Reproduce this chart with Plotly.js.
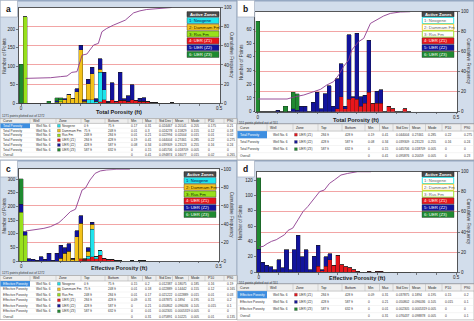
<!DOCTYPE html>
<html><head><meta charset="utf-8">
<script src="https://cdn.plot.ly/plotly-3.0.1.min.js"></script>
<style>html,body{margin:0;padding:0;background:#fff;overflow:hidden}#chart{width:474px;height:321px}</style>
</head><body><div id="chart"></div>
<script>
// ================= DATA =================
const bins=[0,0.01,0.02,0.03,0.04,0.05,0.06,0.07,0.08,0.09,
            0.10,0.11,0.12,0.13,0.14,0.15,0.16,0.17,0.18,0.19,
            0.20,0.21,0.22,0.23,0.24,0.25,0.26,0.27,0.28,0.29,
            0.30,0.31,0.32,0.33,0.34,0.35,0.36,0.37,0.38];
const zoneNames=['Neogene','Dammam Fm','Rus Fm','UER (Z1)','UER (Z2)','UER (Z3)'];
const tableHeader=['Curve','Well','Zone','Top','Bottom','Min','Max','Std Dev','Mean','Mode','P10','P90'];
const xTickLabels=['0','','','','','','','','','','0.5'];

// Panel a : Total porosity, all zones (counts per 0.01 bin)
const aNeo=[0,0,0,0,0,0,0,0,0,0, 0,0,0,0,0,0,2,10,10,6, 80,27,0,0,0,0,0,0,0,0, 0,0,0,0,0,0,0,0,0];
const aDam=[0,0,0,0,0,0,0,0,0,0, 4,9,23,12,31,145,4,43,70,0, 8,0,0,0,0,0,0,0,0,0, 0,0,0,0,0,0,0,0,0];
const aRus=[0,234,0,0,0,0,0,0,0,3, 5,0,0,0,0,0,0,0,0,0, 0,0,0,0,0,0,0,0,0,0, 0,0,0,0,0,0,0,0,0];
const aZ1 =[0,0,0,0,0,0,0,0,0,0, 0,0,0,0,0,0,0,0,0,0, 4,9,3,9,4,8,8,6,10,8, 6,5,4,3,2,0,0,0,1];
const aZ2 =[0,0,0,0,0,0,0,0,0,4, 0,3,2,0,8,12,3,12,17,6, 28,48,2,46,2,76,4,14,40,0, 8,10,0,0,0,0,0,0,0];
const aZ3 =[105,0,0,0,0,0,0,5,0,8, 6,0,0,0,0,0,0,0,0,0, 0,0,0,0,0,0,0,0,0,0, 0,0,0,0,0,0,0,0,0];
const aCumX=[0.011,0.032,0.074,0.099,0.116,0.128,0.141,0.154,0.166,0.183,0.195,0.204,0.216,0.233,0.25,0.263,0.284,0.30,0.317,0.342,0.38];
const aCumY=[26,26,26.7,27.8,28.5,32.3,33,50.3,51.4,60.8,62.5,74.7,78.1,81.6,85,86.8,94.4,96.5,97.9,99,100];

// Panel b : Total porosity, UER zones
const bZ1=[0,0,0,0,0,0,0,0,0,0, 0,0,0,0,0,0,0,0,0,0, 2,11,2,9,10,9,4,6,14,6, 6,6,0,4,2,0,0,2,0];
const bZ2=[0,0,0,0,0,1,0,0,0,2, 1,4,4,0,7,14,2,13,19,4, 22,24,2,47,1,48,7,6,38,0, 9,10,0,0,0,0,0,0,0];
const bZ3=[66,0,0,0,0,0,0,4,0,12, 12,0,0,0,0,0,0,0,0,0, 0,0,0,0,0,0,0,0,0,0, 0,0,0,0,0,0,0,0,0];
const bCumX=[0,0.074,0.095,0.116,0.141,0.158,0.174,0.191,0.204,0.216,0.229,0.237,0.254,0.267,0.284,0.30,0.317,0.334,0.359,0.384];
const bCumY=[12.7,12.7,15,16.7,20,22.3,26.7,30,36.7,45,51.7,61.7,70,73.3,88.3,91.7,95.7,98.3,99.7,100];

// Effective porosity, UER zones (panels c and d)
const effZ1=[0,0,0,0,0,0,0,0,0,0, 0,0,0,0,0,8,2,8,16,9, 22,10,7,6,3,1,0,0,1,0, 1,1,0,0,0,0,0,0,0];
const effZ2=[30,13,9,7,3,16,6,29,3,29, 48,20,29,3,21,27,1,12,8,0, 0,0,0,0,0,0,0,0,0,0, 0,0,0,0,0,0,0,0,0];
const effZ3=[93,0,0,0,0,0,0,0,0,0, 0,0,0,0,0,0,0,0,0,0, 0,0,0,0,0,0,0,0,0,0, 0,0,0,0,0,0,0,0,0];
// Panel c : Effective porosity, upper zones
const cNeo=[0,0,0,0,0,0,0,0,0,0, 0,0,0,0,0,0,2,10,100,9, 15,0,0,0,0,0,0,0,0,0, 0,0,0,0,0,0,0,0,0];
const cDam=[0,0,0,0,0,0,0,0,0,0, 10,28,35,7,89,131,3,18,18,0, 0,0,0,0,0,0,0,0,0,0, 0,0,0,0,0,0,0,0,0];
const cRus=[178,95,0,0,0,0,0,0,0,0, 0,0,0,0,0,0,0,0,0,0, 0,0,0,0,0,0,0,0,0,0, 0,0,0,0,0,0,0,0,0];
const cCumX=[0.011,0.032,0.057,0.074,0.095,0.107,0.124,0.137,0.154,0.162,0.174,0.187,0.20,0.216,0.242,0.275];
const cCumY=[32.7,33.8,35.6,37.5,41.8,46.5,53.8,56.4,77.5,79.3,88.4,95.6,98.2,99.3,100,100];
// Panel d
const dCumX=[0,0.011,0.021,0.032,0.044,0.057,0.065,0.074,0.086,0.099,0.112,0.124,0.137,0.154,0.166,0.179,0.191,0.208,0.225,0.25,0.284];
const dCumY=[25,25.7,28.4,30.7,32.3,35,37.3,41.6,43.9,52.1,60.4,65.3,71.3,80.2,81.8,88.4,91.7,96.7,98.3,100,100];

// Statistics tables
const aRows=[
 ['Total Porosity','Well No. 6','Neogene','0 ft','75 ft','0.17','0.31','0.024467','0.20141','0.205','0.175','0.21'],
 ['Total Porosity','Well No. 6','Dammam Fm','75 ft','248 ft','0.01','0.3','0.024278','0.15829','0.155','0.12','0.18'],
 ['Total Porosity','Well No. 6','Rus Fm','248 ft','284 ft','0.01','0.21','0.022994','0.02004','0.015','0.01','0.02'],
 ['Total Porosity','Well No. 6','UER (Z1)','284 ft','428 ft','0.19','0.41','0.044004','0.27461','0.285','0.22','0.275'],
 ['Total Porosity','Well No. 6','UER (Z2)','428 ft','587 ft','0.08','0.34','0.039309','0.23123','0.255','0.16','0.24'],
 ['Total Porosity','Well No. 6','UER (Z3)','587 ft','632 ft','0','0.15','0.045706','0.018709','0.005','0','0'],
 ['Overall','','','','','0','0.41','0.094874','0.16077','0.015','0.02','0.265']];
const bRows=[
 ['Total Porosity','Well No. 6','UER (Z1)','284 ft','428 ft','0.19','0.41','0.044004','0.27461','0.285','0.22','0.275'],
 ['Total Porosity','Well No. 6','UER (Z2)','428 ft','587 ft','0.08','0.34','0.039309','0.23123','0.255','0.16','0.24'],
 ['Total Porosity','Well No. 6','UER (Z3)','587 ft','632 ft','0','0.15','0.045706','0.018709','0.005','0','0'],
 ['Overall','','','','','0','0.41','0.095876','0.20059','0.005','0','0.23']];
const cRows=[
 ['Effective Porosity','Well No. 6','Neogene','0 ft','75 ft','0.15','0.2','0.012387','0.18075','0.185','0.16','0.19'],
 ['Effective Porosity','Well No. 6','Dammam Fm','75 ft','248 ft','0.01','0.18','0.022889','0.14442','0.155','0.12','0.165'],
 ['Effective Porosity','Well No. 6','Rus Fm','248 ft','284 ft','0.01','0.17','0.021222','0.022889','0.015','0.01','0.03'],
 ['Effective Porosity','Well No. 6','UER (Z1)','284 ft','428 ft','0.09','0.31','0.037875','0.1894','0.195','0.15','0.2'],
 ['Effective Porosity','Well No. 6','UER (Z2)','428 ft','587 ft','0','0.21','0.050802','0.096036','0.105','0.015','0.1'],
 ['Effective Porosity','Well No. 6','UER (Z3)','587 ft','632 ft','0','0.01','0.002305','0.0005319','0.005','0','0'],
 ['Overall','','','','','0','0.31','0.075891','0.10225','0.005','0.01','0.135']];
const dRows=[
 ['Effective Porosity','Well No. 6','UER (Z1)','284 ft','428 ft','0.09','0.31','0.037875','0.1894','0.195','0.15','0.2'],
 ['Effective Porosity','Well No. 6','UER (Z2)','428 ft','587 ft','0','0.21','0.050802','0.096036','0.105','0.015','0.1'],
 ['Effective Porosity','Well No. 6','UER (Z3)','587 ft','632 ft','0','0.01','0.002305','0.0005319','0.005','0','0'],
 ['Overall','','','','','0','0.31','0.076437','0.098878','0.005','0','0.1']];

// ================= STYLE / LAYOUT =================
const zoneColors=['#1fe3ec','#f3c21a','#98e01c','#e8151b','#12139c','#1f8a30'];
const zoneText=['#0b0b55','#2a2000','#0f2a00','#ffffff','#ffffff','#ffffff'];
const W=474,H=321;
const layout={width:W,height:H,margin:{l:0,r:0,t:0,b:0,pad:0},paper_bgcolor:'#ffffff',plot_bgcolor:'rgba(0,0,0,0)',
  barmode:'stack',bargap:0,showlegend:false,hovermode:false,
  font:{family:'Liberation Sans, Arial, sans-serif',size:4.5,color:'#222'},shapes:[],annotations:[]};
const fx=v=>v/W, fy=v=>1-v/H;
function rect(x1,y1,x2,y2,fill,lc,lw,layer){layout.shapes.push({type:'rect',xref:'paper',yref:'paper',x0:fx(x1),x1:fx(x2),y0:fy(y2),y1:fy(y1),fillcolor:fill,line:{color:lc||'rgba(0,0,0,0)',width:lw||0},layer:layer||'above'});}
function seg(x1,y1,x2,y2,c,lw,layer){layout.shapes.push({type:'line',xref:'paper',yref:'paper',x0:fx(x1),x1:fx(x2),y0:fy(y1),y1:fy(y2),line:{color:c,width:lw},layer:layer||'above'});}
function txt(x,y,t,size,color,opts){layout.annotations.push(Object.assign({xref:'paper',yref:'paper',x:fx(x),y:fy(y),text:t,showarrow:false,xanchor:'left',yanchor:'middle',borderpad:0,font:{size:size,color:color||'#222'}},opts||{}));}

const panels=[
 {lab:'a',X:0,Y:0,px:[18.7,220],py:[7.5,103.3],yMax:259,yT:[0,50,100,150,200],series:[aZ1,aNeo,aDam,aRus,aZ2,aZ3],zones:[3,0,1,2,4,5],cx:aCumX,cy:aCumY,xt:'Total Porosity (ft)',xtY:111.8,pts:'1271 points plotted out of 1272',ptsY:116.4,tTop:118.6,rowH:4.8,rows:aRows,leg:[187,219,11.7],active:[1,1,1,1,1,1]},
 {lab:'b',X:237,Y:0,px:[255.3,457],py:[11.7,111.7],yMax:72.8,yT:[0,10,20,30,40,50,60],series:[bZ1,bZ2,bZ3],zones:[3,4,5],cx:bCumX,cy:bCumY,xt:'Total Porosity (ft)',xtY:119.6,pts:'551 points plotted out of 551',ptsY:122.5,tTop:123.9,rowH:7.2,rows:bRows,leg:[422,454,11.7],active:[0,0,0,1,1,1]},
 {lab:'c',X:0,Y:160,px:[19,219.5],py:[169.3,261],yMax:336,yT:[0,50,100,150,200,250,300],series:[effZ1,cNeo,cDam,cRus,effZ2,effZ3],zones:[3,0,1,2,4,5],cx:cCumX,cy:cCumY,xt:'Effective Porosity (ft)',xtY:268.3,pts:'1271 points plotted out of 1272',ptsY:273.2,tTop:275.5,rowH:5.5,rows:cRows,leg:[184,216,171.7],active:[1,1,1,1,1,1]},
 {lab:'d',X:237,Y:160,px:[256.5,457],py:[171.7,272.2],yMax:131,yT:[0,20,40,60,80,100,120],series:[effZ1,effZ2,effZ3],zones:[3,4,5],cx:dCumX,cy:dCumY,xt:'Effective Porosity (ft)',xtY:277.6,pts:'551 points plotted out of 551',ptsY:282.6,tTop:283.9,rowH:7.2,rows:dRows,leg:[422,454,171.7],active:[0,0,0,1,1,1]}
];
const colX=[1.5,31.5,57.5,82.5,106.5,129.5,144,157.5,174,190,206.5,225.5];
const xTickVals=[0,0.05,0.1,0.15,0.2,0.25,0.3,0.35,0.4,0.45,0.5];

const traces=[];
panels.forEach((p,k)=>{
  const n=k+1, xa='x'+(n===1?'':n), ya='y'+(2*n-1===1?'':(2*n-1)), ya2='y'+(2*n);
  const xk='xaxis'+(n===1?'':n), yk='yaxis'+(2*n-1===1?'':(2*n-1)), yk2='yaxis'+(2*n);
  layout[xk]={domain:[fx(p.px[0]),fx(p.px[1])],anchor:ya,range:[-0.006,0.502],tickvals:xTickVals,ticktext:xTickLabels,
    ticks:'outside',ticklen:1.6,tickwidth:0.6,tickcolor:'#333',ticklabelstandoff:-1,showline:true,mirror:true,linecolor:'#333',linewidth:0.8,
    showgrid:false,zeroline:false,tickfont:{size:4.5,color:'#222'}};
  layout[yk]={domain:[fy(p.py[1]),fy(p.py[0])],anchor:xa,range:[0,p.yMax],tickvals:p.yT,ticks:'outside',ticklen:2,tickwidth:0.6,
    tickcolor:'#333',showline:true,mirror:true,linecolor:'#333',linewidth:0.8,showgrid:false,zeroline:false,tickfont:{size:4.5,color:'#222'}};
  layout[yk2]={overlaying:ya,side:'right',anchor:xa,range:[0,100],tickvals:[0,20,40,60,80,100],ticks:'outside',ticklen:2,tickwidth:0.6,
    tickcolor:'#333',showline:false,showgrid:true,gridcolor:'#ef8e8e',gridwidth:0.8,zeroline:false,tickfont:{size:4.5,color:'#222'}};
  p.series.forEach((s,i)=>{
    traces.push({type:'bar',x:bins,y:s,width:0.0102,xaxis:xa,yaxis:ya,marker:{color:zoneColors[p.zones[i]],line:{color:'#1a1a1a',width:0.3}},hoverinfo:'skip'});
  });
  traces.push({type:'scatter',mode:'lines',x:p.cx,y:p.cy,xaxis:xa,yaxis:ya2,line:{color:'#8d3c8f',width:0.9},hoverinfo:'skip'});

  // panel background + plot area
  rect(p.X,p.Y,p.X+237,p.tTop,'#d2ddeb','#8797b0',0.6,'below');
  rect(p.X,p.Y,p.X+237,p.Y+1.6,'#95a8c2',null,0,'below');
  rect(p.px[0],p.py[0],p.px[1],p.py[1],'#ffffff',null,0,'below');
  // label box
  rect(p.X+0.3,p.Y+0.3,p.X+17.5,p.Y+17,'#ffffff','#9aa6b8',0.6);
  txt(p.X+8.9,p.Y+8.8,'<b>'+p.lab+'</b>',8.5,'#111',{xanchor:'center'});
  // axis titles
  const cyM=(p.py[0]+p.py[1])/2;
  txt(p.X+4.3,cyM,'Number of Points',4.6,'#333',{textangle:-90,xanchor:'center'});
  txt(p.X+231.5,cyM,'Cumulative Frequency',4.6,'#333',{textangle:90,xanchor:'center'});
  txt((p.px[0]+p.px[1])/2,p.xtY,'<b>'+p.xt+'</b>',5.6,'#1a1a1a',{xanchor:'center'});
  txt(p.X+1,p.ptsY,p.pts,3.1,'#333');
  // legend
  const [lx0,lx1,ly0]=p.leg;
  rect(lx0,ly0,lx1,ly0+5.1,'#4a4a4a','#1e1e1e',0.5);
  txt((lx0+lx1)/2,ly0+2.6,'<b>Active Zones</b>',4.3,'#ffffff',{xanchor:'center'});
  zoneNames.forEach((z,i)=>{
    const t=ly0+5.7+i*6.8, b=t+6.1;
    if(p.active[i]){rect(lx0,t,lx1,b,zoneColors[i],'#333',0.4);txt(lx0+1.4,(t+b)/2,(i+1)+': '+z,4.3,zoneText[i]);}
    else{rect(lx0+0.3,t,lx1-0.3,b,'#ffffff',zoneColors[i],0.9);txt(lx0+1.4,(t+b)/2,(i+1)+': '+z,4.3,'#666');}
  });
  // table
  const nR=p.rows.length+1, tb=p.tTop+nR*p.rowH, X=p.X;
  rect(X,p.tTop,X+237,tb,'#ffffff','#9a9a9a',0.6);
  rect(X,p.tTop,X+237,p.tTop+p.rowH,'#eeeeee','#9a9a9a',0.5);
  colX.forEach((c,j)=>{ if(j>0) seg(X+c-1.5,p.tTop,X+c-1.5,p.tTop+p.rowH,'#b4b4b4',0.5); });
  for(let r=2;r<nR;r++) seg(X,p.tTop+r*p.rowH,X+237,p.tTop+r*p.rowH,'#e2e2e2',0.4);
  tableHeader.forEach((h,j)=>txt(X+colX[j],p.tTop+p.rowH/2,h,3.4,'#222'));
  rect(X+0.4,p.tTop+p.rowH,X+colX[1]-1.5,p.tTop+2*p.rowH,'#3d8ee0',null,0);
  p.rows.forEach((row,r)=>{
    const cy=p.tTop+(r+1.5)*p.rowH;
    row.forEach((v,j)=>{
      if(v==='') return;
      if(j===2){
        const zi=zoneNames.indexOf(v);
        rect(X+colX[2],cy-1.4,X+colX[2]+2.8,cy+1.4,zoneColors[zi],'#444',0.3);
        txt(X+colX[2]+3.8,cy,v,3.2,'#333');
      } else {
        txt(X+colX[j]+(j===1?3:0),cy,v,3.2,(r===0&&j===0)?'#ffffff':'#333');
      }
    });
  });
});
Plotly.newPlot('chart',traces,layout,{staticPlot:true,displayModeBar:false});
</script></body></html>
